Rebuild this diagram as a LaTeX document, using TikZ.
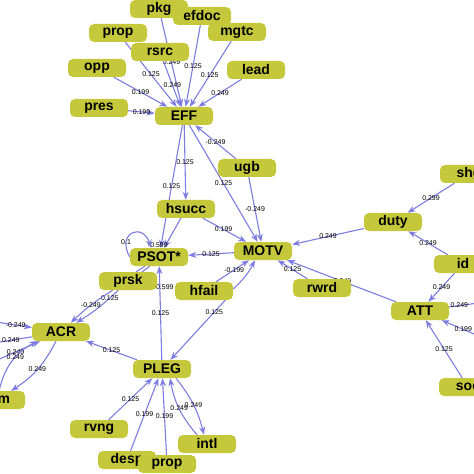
\documentclass[tikz,border=0pt]{standalone}
\usepackage{fontspec}
\setmainfont{Liberation Sans}
\usetikzlibrary{arrows.meta,backgrounds}
\definecolor{nodefill}{RGB}{198,200,60}
\definecolor{edgeblue}{RGB}{125,125,225}

\begin{document}
\begin{tikzpicture}[x=1bp, y=-1bp,
  var/.style={rectangle, rounded corners=5bp, fill=nodefill, minimum width=58bp,
    minimum height=18bp, inner sep=0pt, font=\bfseries\fontsize{14}{14}\selectfont},
  edge/.style={draw=edgeblue, line width=1.1bp, -{Stealth[length=8bp,width=6bp]}},
  link/.style={draw=edgeblue, line width=1.1bp},
  wt/.style={font=\fontsize{7}{7}\selectfont, inner sep=0.5bp}]
  \useasboundingbox (0,0) rectangle (474,474);
  \node[var] (pkg) at (159,9) {pkg};
  \node[var] (efdoc) at (202,16) {efdoc};
  \node[var] (propA) at (118,33) {prop};
  \node[var] (mgtc) at (237,32) {mgtc};
  \node[var] (rsrc) at (160,52) {rsrc};
  \node[var] (opp) at (97,68) {opp};
  \node[var] (lead) at (256,70) {lead};
  \node[var] (pres) at (99,108) {pres};
  \node[var] (EFF) at (184,116) {EFF};
  \node[var] (ugb) at (247,168) {ugb};
  \node[var] (hsucc) at (186,209) {hsucc};
  \node[var] (PSOT) at (159,257) {PSOT*};
  \node[var] (MOTV) at (263,251) {MOTV};
  \node[var] (prsk) at (128,281) {prsk};
  \node[var] (hfail) at (204,291) {hfail};
  \node[var] (rwrd) at (322,288) {rwrd};
  \node[var] (duty) at (393,222) {duty};
  \node[var] (shg) at (469,174) {shg};
  \node[var] (id) at (463,264) {id};
  \node[var] (ATT) at (420,311) {ATT};
  \node[var] (soc) at (468,387) {soc};
  \node[var] (ACR) at (61,332) {ACR};
  \node[var] (PLEG) at (162,369) {PLEG};
  \node[var, text width=28bp, align=right] (nm) at (-4,400) {m};
  \node[var] (rvng) at (99,429) {rvng};
  \node[var] (intl) at (207,444) {intl};
  \node[var] (desp) at (127,460) {desp};
  \node[var] (propB) at (167,464) {prop};
  \coordinate (west1) at (-30,318);
  \coordinate (west2) at (-30,347);
  \coordinate (west3) at (-30,372);
  \coordinate (east1) at (500,300);
  \coordinate (east2) at (500,345);
  \begin{scope}[on background layer]
    \draw[edge] (propA) -- (EFF) node[wt,pos=0.5] {0.125};
    \draw[edge] (opp) -- (EFF) node[wt,pos=0.5] {0.199};
    \draw[edge] (pres) -- (EFF) node[wt,pos=0.5] {0.199};
    \draw[edge] (pkg) -- (EFF) node[wt,pos=0.5] {0.249};
    \draw[edge] (rsrc) -- (EFF) node[wt,pos=0.52] {0.249};
    \draw[edge] (efdoc) -- (EFF) node[wt,pos=0.5] {0.125};
    \draw[edge] (mgtc) -- (EFF) node[wt,pos=0.52] {0.125};
    \draw[edge] (lead) -- (EFF) node[wt,pos=0.5] {0.249};
    \draw[edge] (ugb) -- (EFF) node[wt,pos=0.5] {-0.249};
    \draw[edge] (EFF) -- (hsucc) node[wt,pos=0.5] {0.125};
    \draw[edge] (EFF) -- (PSOT) node[wt,pos=0.5] {0.125};
    \draw[edge] (EFF) -- (MOTV) node[wt,pos=0.5] {0.125};
    \draw[edge] (ugb) -- (MOTV) node[wt,pos=0.5] {-0.249};
    \draw[edge] (hsucc) -- (PSOT) node[wt,pos=0.9,xshift=-8bp] {-0.599};
    \draw[edge] (hsucc) -- (MOTV) node[wt,pos=0.48] {0.199};
    \draw[edge] (PSOT.west) .. controls +(-14,-24) and +(-8,-26) .. ([xshift=-8bp]PSOT.north) node[wt,pos=0.25] {0.1};
    \draw[edge] (MOTV) -- (PSOT) node[wt,pos=0.5] {0.125};
    \draw[edge] ([xshift=12bp]hfail.north) -- ([xshift=-14bp]MOTV.south) node[wt,pos=0.55] {-0.199};
    \draw[edge] ([yshift=2bp]hfail.east) to[bend right=10] ([xshift=-8bp]MOTV.south);
    \draw[edge] (rwrd) -- (MOTV) node[wt,pos=0.5] {0.125};
    \draw[edge] (ATT) -- (MOTV) node[wt,pos=0.49] {0.249};
    \draw[edge] (duty) -- (MOTV) node[wt,pos=0.5] {0.249};
    \draw[edge] (shg) -- (duty) node[wt,pos=0.5] {0.299};
    \draw[edge] (id) -- (duty) node[wt,pos=0.5] {0.249};
    \draw[edge] (id) -- (ATT) node[wt,pos=0.5] {0.249};
    \draw[edge] (ATT) -- (east1) node[wt,pos=0.2] {0.249};
    \draw[edge] (east2) -- (ATT) node[wt,pos=0.63] {0.199};
    \draw[edge] (soc) -- (ATT) node[wt,pos=0.5] {0.125};
    \draw[link] ([xshift=8bp]prsk.north) -- ([xshift=-14bp]PSOT.south);
    \draw[link] ([xshift=14bp]prsk.north) -- ([xshift=-9bp]PSOT.south);
    \draw[edge] (prsk) to[bend left=6] node[wt,pos=0.2] {0.125} (ACR);
    \draw[edge] (prsk) to[bend right=6] node[wt,pos=0.5] {-0.249} (ACR);
    \draw[edge] (PLEG) -- (ACR) node[wt,pos=0.5] {0.125};
    \draw[edge] ([xshift=-8bp]hfail.south east) -- (PLEG) node[wt,pos=0.2] {0.125};
    \draw[edge] (PLEG) -- (PSOT) node[wt,pos=0.5] {0.125} node[wt,pos=0.78,xshift=5bp] {0.599};
    \draw[edge] (rvng) -- (PLEG) node[wt,pos=0.5] {0.125};
    \draw[edge] (desp) -- (PLEG) node[wt,pos=0.5] {0.199};
    \draw[edge] (propB) -- (PLEG) node[wt,pos=0.5] {0.199};
    \draw[edge] ([xshift=-10bp]intl.north) to[bend left=15] node[wt,pos=0.5] {0.249} ([xshift=8bp]PLEG.south);
    \draw[edge] ([xshift=14bp]PLEG.south) to[bend left=12] node[wt,pos=0.5] {0.249} ([xshift=-3bp]intl.north);
    \draw[edge] (west1) -- (ACR) node[wt,pos=0.74] {-0.249};
    \draw[edge] (ACR) -- (west2) node[wt,pos=0.34] {0.249};
    \draw[edge] (west3) -- (ACR) node[wt,pos=0.65] {0.249};
    \draw[edge] (nm) to[bend left=25] node[wt,pos=0.58] {0.249} (ACR);
    \draw[edge] (ACR) to[bend left=15] node[wt,pos=0.5] {0.249} (nm);
  \end{scope}
\end{tikzpicture}
\end{document}
